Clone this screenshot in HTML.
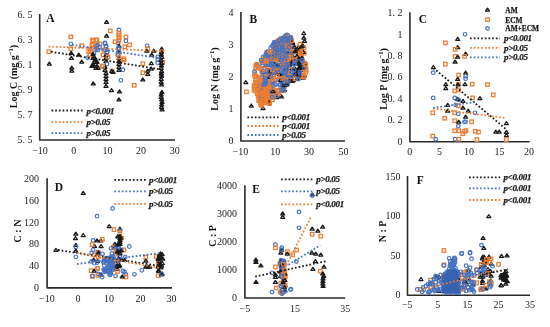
<!DOCTYPE html>
<html><head><meta charset="utf-8"><title>Scatter panels</title>
<style>
html,body{margin:0;padding:0;background:#fff;width:550px;height:327px;overflow:hidden}
svg{display:block;will-change:transform}
.tk{font-family:"Liberation Serif",serif;font-size:10px;fill:#222}
.pt{font-family:"Liberation Serif",serif;font-size:11.5px;font-weight:bold;fill:#111}
.lg{font-family:"Liberation Serif",serif;font-size:9px;font-weight:bold;font-style:italic;fill:#1a1a1a;letter-spacing:-0.3px;stroke:#1a1a1a;stroke-width:0.25px}
.lgn{font-style:normal;font-size:7.4px;letter-spacing:0}
.yt{font-family:"Liberation Serif",serif;font-size:10px;font-weight:bold;fill:#111}
.sup{font-size:6.5px}
</style></head><body>
<svg width="550" height="327" viewBox="0 0 550 327">
<defs>
<path id="t" d="M0,-1.6 L2.0,1.4 L-2.0,1.4 Z" fill="none" stroke="#1a1a1a" stroke-width="1.25" stroke-linejoin="round"/>
<path id="T" d="M0,-1.6 L2.0,1.4 L-2.0,1.4 Z" fill="#1a1a1a" stroke="#1a1a1a" stroke-width="1.25" stroke-linejoin="round"/>
<rect id="s" x="-1.75" y="-1.75" width="3.5" height="3.5" fill="none" stroke="#ED7D31" stroke-width="1.25"/>
<circle id="c" cx="0" cy="0" r="1.8" fill="none" stroke="#4472C4" stroke-width="1.2"/>
</defs>
<path d="M39.7,14 V140.0 H175" fill="none" stroke="#2a2a2a" stroke-width="1.6" stroke-linejoin="round"/>
<text class="tk" x="32.5" y="18.0" text-anchor="end">6. 5</text>
<text class="tk" x="32.5" y="42.9" text-anchor="end">6. 3</text>
<text class="tk" x="32.5" y="67.9" text-anchor="end">6. 1</text>
<text class="tk" x="32.5" y="92.9" text-anchor="end">5. 9</text>
<text class="tk" x="32.5" y="117.9" text-anchor="end">5. 7</text>
<text class="tk" x="32.5" y="142.9" text-anchor="end">5. 5</text>
<text class="tk" x="40" y="154.4" text-anchor="middle">−10</text>
<text class="tk" x="73.7" y="154.4" text-anchor="middle">0</text>
<text class="tk" x="107.4" y="154.4" text-anchor="middle">10</text>
<text class="tk" x="141" y="154.4" text-anchor="middle">20</text>
<text class="tk" x="174.7" y="154.4" text-anchor="middle">30</text>
<text class="pt" x="46.3" y="21.8">A</text>
<text class="yt" transform="translate(16.8,76.5) rotate(-90)" text-anchor="middle">Log C (mg g<tspan class="sup" dy="-4">−1</tspan><tspan dy="4">)</tspan></text>
<use href="#t" x="49.3" y="63.7"/>
<use href="#s" x="48.9" y="51.7"/>
<use href="#s" x="70.8" y="36.8"/>
<use href="#c" x="70.8" y="43.8"/>
<use href="#s" x="70.8" y="48.8"/>
<use href="#T" x="71.2" y="53.0"/>
<use href="#t" x="71.4" y="58.0"/>
<use href="#t" x="71.8" y="67.7"/>
<use href="#t" x="71.8" y="70.6"/>
<use href="#T" x="78.8" y="54.7"/>
<use href="#t" x="81.7" y="61.7"/>
<use href="#s" x="81.7" y="45.8"/>
<use href="#c" x="87.7" y="57.7"/>
<use href="#s" x="88.7" y="51.7"/>
<use href="#s" x="93.0" y="41.0"/>
<use href="#s" x="97.0" y="40.0"/>
<use href="#s" x="92.0" y="45.0"/>
<use href="#s" x="96.0" y="47.0"/>
<use href="#c" x="97.0" y="46.0"/>
<use href="#c" x="98.0" y="50.0"/>
<use href="#t" x="93.0" y="58.0"/>
<use href="#t" x="95.0" y="62.0"/>
<use href="#t" x="97.0" y="66.0"/>
<use href="#s" x="90.0" y="49.0"/>
<use href="#s" x="100.0" y="44.0"/>
<use href="#c" x="94.0" y="53.0"/>
<use href="#t" x="93.0" y="64.0"/>
<use href="#t" x="96.0" y="68.0"/>
<use href="#t" x="93.3" y="83.5"/>
<use href="#T" x="95.0" y="60.0"/>
<use href="#T" x="92.0" y="66.0"/>
<use href="#t" x="106.6" y="21.9"/>
<use href="#t" x="106.6" y="35.8"/>
<use href="#s" x="110.3" y="30.9"/>
<use href="#c" x="105.0" y="43.0"/>
<use href="#c" x="106.0" y="46.0"/>
<use href="#s" x="104.0" y="50.0"/>
<use href="#c" x="107.0" y="52.0"/>
<use href="#s" x="103.0" y="55.0"/>
<use href="#t" x="106.0" y="58.0"/>
<use href="#t" x="106.0" y="61.0"/>
<use href="#s" x="103.0" y="66.0"/>
<use href="#c" x="107.0" y="64.0"/>
<use href="#t" x="105.0" y="70.0"/>
<use href="#t" x="106.0" y="73.0"/>
<use href="#t" x="106.0" y="76.0"/>
<use href="#t" x="106.0" y="79.0"/>
<use href="#t" x="106.0" y="82.0"/>
<use href="#t" x="106.0" y="86.0"/>
<use href="#T" x="106.0" y="55.0"/>
<use href="#T" x="105.0" y="67.0"/>
<use href="#c" x="118.9" y="29.9"/>
<use href="#s" x="118.9" y="34.9"/>
<use href="#s" x="118.9" y="39.9"/>
<use href="#c" x="118.0" y="43.0"/>
<use href="#t" x="119.0" y="46.0"/>
<use href="#c" x="119.0" y="49.0"/>
<use href="#t" x="119.0" y="52.0"/>
<use href="#s" x="118.0" y="55.0"/>
<use href="#t" x="119.0" y="58.0"/>
<use href="#s" x="120.0" y="60.0"/>
<use href="#t" x="119.0" y="64.0"/>
<use href="#t" x="119.0" y="67.0"/>
<use href="#t" x="119.0" y="70.0"/>
<use href="#t" x="119.5" y="91.4"/>
<use href="#t" x="118.9" y="99.4"/>
<use href="#T" x="119.0" y="61.0"/>
<use href="#s" x="114.9" y="41.8"/>
<use href="#s" x="125.9" y="36.9"/>
<use href="#c" x="125.9" y="40.8"/>
<use href="#s" x="129.5" y="44.8"/>
<use href="#s" x="124.9" y="46.8"/>
<use href="#s" x="123.9" y="58.8"/>
<use href="#c" x="122.9" y="69.7"/>
<use href="#c" x="120.9" y="80.3"/>
<use href="#s" x="124.0" y="60.0"/>
<use href="#s" x="112.0" y="71.0"/>
<use href="#t" x="113.0" y="72.0"/>
<use href="#t" x="111.5" y="90.2"/>
<use href="#s" x="134.2" y="85.3"/>
<use href="#c" x="147.2" y="45.8"/>
<use href="#s" x="147.8" y="48.8"/>
<use href="#t" x="146.8" y="50.8"/>
<use href="#t" x="153.7" y="50.8"/>
<use href="#t" x="161.7" y="48.8"/>
<use href="#s" x="161.7" y="51.8"/>
<use href="#c" x="157.7" y="56.8"/>
<use href="#c" x="157.7" y="59.7"/>
<use href="#c" x="157.7" y="62.7"/>
<use href="#t" x="151.7" y="54.8"/>
<use href="#s" x="142.8" y="63.7"/>
<use href="#t" x="151.3" y="63.3"/>
<use href="#t" x="151.3" y="68.7"/>
<use href="#s" x="142.8" y="72.7"/>
<use href="#t" x="147.8" y="70.7"/>
<use href="#t" x="147.8" y="74.0"/>
<use href="#t" x="142.8" y="79.5"/>
<use href="#s" x="162.7" y="62.4"/>
<use href="#c" x="161.7" y="75.0"/>
<use href="#t" x="161.4" y="52.0"/>
<use href="#T" x="161.3" y="54.5"/>
<use href="#t" x="161.8" y="57.0"/>
<use href="#t" x="161.2" y="60.0"/>
<use href="#t" x="161.6" y="63.0"/>
<use href="#T" x="161.5" y="65.5"/>
<use href="#t" x="161.2" y="68.0"/>
<use href="#t" x="161.6" y="71.0"/>
<use href="#t" x="161.1" y="73.5"/>
<use href="#T" x="161.5" y="76.0"/>
<use href="#t" x="161.2" y="79.0"/>
<use href="#t" x="161.2" y="82.0"/>
<use href="#t" x="161.5" y="84.5"/>
<use href="#T" x="161.9" y="92.0"/>
<use href="#t" x="161.2" y="94.5"/>
<use href="#t" x="161.3" y="97.0"/>
<use href="#t" x="161.7" y="99.5"/>
<use href="#T" x="162.0" y="102.0"/>
<use href="#t" x="161.7" y="104.5"/>
<use href="#t" x="161.5" y="107.0"/>
<use href="#t" x="162.1" y="109.5"/>
<use href="#c" x="105.0" y="43.5"/>
<use href="#c" x="106.0" y="47.0"/>
<use href="#c" x="105.5" y="50.0"/>
<use href="#c" x="107.0" y="53.0"/>
<use href="#s" x="108.0" y="57.0"/>
<use href="#c" x="118.5" y="48.0"/>
<use href="#c" x="119.0" y="52.0"/>
<use href="#c" x="118.0" y="55.0"/>
<use href="#s" x="119.0" y="57.0"/>
<use href="#s" x="119.0" y="33.0"/>
<use href="#s" x="119.0" y="37.5"/>
<use href="#s" x="118.5" y="41.0"/>
<use href="#c" x="97.5" y="45.0"/>
<use href="#c" x="96.5" y="49.0"/>
<use href="#c" x="99.5" y="47.0"/>
<use href="#s" x="92.5" y="40.0"/>
<use href="#s" x="96.0" y="40.0"/>
<use href="#s" x="93.0" y="44.5"/>
<use href="#s" x="91.0" y="51.0"/>
<use href="#s" x="90.0" y="55.0"/>
<use href="#T" x="93.0" y="54.0"/>
<use href="#T" x="95.0" y="58.0"/>
<use href="#T" x="97.0" y="62.0"/>
<use href="#T" x="94.0" y="66.0"/>
<use href="#t" x="98.0" y="68.0"/>
<use href="#s" x="102.6" y="66.3"/>
<use href="#t" x="111.8" y="70.9"/>
<line x1="48.6" y1="46.5" x2="162.7" y2="51" stroke="#ED7D31" stroke-width="1.8" stroke-dasharray="1.7 2.0"/>
<line x1="51" y1="51.7" x2="160.3" y2="69.4" stroke="#1a1a1a" stroke-width="1.8" stroke-dasharray="1.7 2.0"/>
<line x1="72" y1="44.8" x2="160.3" y2="58.3" stroke="#4472C4" stroke-width="1.8" stroke-dasharray="1.7 2.0"/>
<line x1="51.5" y1="110.5" x2="82.5" y2="110.5" stroke="#1a1a1a" stroke-width="1.8" stroke-dasharray="1.7 2.0"/>
<text class="lg" x="86.5" y="113.5">p&lt;0.001</text>
<line x1="51.5" y1="122.1" x2="82.5" y2="122.1" stroke="#ED7D31" stroke-width="1.8" stroke-dasharray="1.7 2.0"/>
<text class="lg" x="86.5" y="125.1">p&gt;0.05</text>
<line x1="51.5" y1="133.2" x2="82.5" y2="133.2" stroke="#4472C4" stroke-width="1.8" stroke-dasharray="1.7 2.0"/>
<text class="lg" x="86.5" y="136.2">p&gt;0.05</text>
<path d="M240.89999999999998,12 V141.0 H345" fill="none" stroke="#2a2a2a" stroke-width="1.6" stroke-linejoin="round"/>
<text class="tk" x="233.5" y="15.6" text-anchor="end">4</text>
<text class="tk" x="233.5" y="47.7" text-anchor="end">3</text>
<text class="tk" x="233.5" y="79.8" text-anchor="end">2</text>
<text class="tk" x="233.5" y="111.9" text-anchor="end">1</text>
<text class="tk" x="233.5" y="144.0" text-anchor="end">0</text>
<text class="tk" x="240.4" y="155.2" text-anchor="middle">−10</text>
<text class="tk" x="275.3" y="155.2" text-anchor="middle">10</text>
<text class="tk" x="309" y="155.2" text-anchor="middle">30</text>
<text class="tk" x="343.5" y="155.2" text-anchor="middle">50</text>
<text class="pt" x="249.6" y="23.2">B</text>
<text class="yt" transform="translate(217.5,79) rotate(-90)" text-anchor="middle">Log N (mg g<tspan class="sup" dy="-4">−1</tspan><tspan dy="4">)</tspan></text>
<use href="#t" x="298.5" y="72.0"/>
<use href="#t" x="291.3" y="80.8"/>
<use href="#t" x="284.4" y="89.8"/>
<use href="#t" x="273.7" y="45.7"/>
<use href="#t" x="298.6" y="63.6"/>
<use href="#t" x="285.8" y="37.0"/>
<use href="#t" x="303.8" y="62.6"/>
<use href="#t" x="284.9" y="75.1"/>
<use href="#t" x="304.5" y="75.4"/>
<use href="#t" x="265.8" y="92.9"/>
<use href="#t" x="295.6" y="50.3"/>
<use href="#t" x="300.0" y="50.1"/>
<use href="#t" x="301.0" y="76.1"/>
<use href="#t" x="278.2" y="70.9"/>
<use href="#t" x="302.5" y="45.3"/>
<use href="#t" x="289.6" y="65.9"/>
<use href="#t" x="263.0" y="108.3"/>
<use href="#t" x="302.5" y="45.6"/>
<use href="#t" x="285.0" y="85.1"/>
<use href="#t" x="297.1" y="55.8"/>
<use href="#t" x="278.3" y="58.9"/>
<use href="#s" x="254.1" y="85.5"/>
<use href="#s" x="281.8" y="49.9"/>
<use href="#s" x="301.2" y="58.0"/>
<use href="#t" x="283.7" y="84.7"/>
<use href="#s" x="275.7" y="62.4"/>
<use href="#s" x="268.4" y="83.8"/>
<use href="#s" x="290.1" y="39.4"/>
<use href="#s" x="268.4" y="55.0"/>
<use href="#s" x="262.7" y="87.1"/>
<use href="#s" x="266.2" y="96.0"/>
<use href="#s" x="255.4" y="85.9"/>
<use href="#s" x="264.1" y="101.2"/>
<use href="#s" x="265.6" y="75.2"/>
<use href="#t" x="283.9" y="65.0"/>
<use href="#s" x="274.4" y="44.4"/>
<use href="#t" x="295.2" y="58.5"/>
<use href="#s" x="258.3" y="66.9"/>
<use href="#s" x="265.4" y="74.8"/>
<use href="#s" x="273.5" y="61.0"/>
<use href="#t" x="289.0" y="80.0"/>
<use href="#t" x="289.3" y="51.9"/>
<use href="#s" x="288.3" y="78.8"/>
<use href="#t" x="291.7" y="69.2"/>
<use href="#s" x="256.1" y="76.5"/>
<use href="#t" x="305.0" y="66.0"/>
<use href="#s" x="265.1" y="93.0"/>
<use href="#s" x="289.7" y="53.0"/>
<use href="#s" x="300.6" y="47.8"/>
<use href="#s" x="274.6" y="53.1"/>
<use href="#t" x="283.4" y="90.7"/>
<use href="#s" x="261.0" y="68.9"/>
<use href="#t" x="278.1" y="40.9"/>
<use href="#s" x="257.2" y="93.5"/>
<use href="#t" x="297.8" y="77.1"/>
<use href="#t" x="285.3" y="47.1"/>
<use href="#s" x="268.7" y="90.2"/>
<use href="#s" x="264.0" y="96.7"/>
<use href="#s" x="262.9" y="99.5"/>
<use href="#t" x="303.1" y="77.6"/>
<use href="#s" x="275.8" y="73.1"/>
<use href="#s" x="286.5" y="66.0"/>
<use href="#t" x="294.9" y="74.2"/>
<use href="#t" x="300.9" y="64.3"/>
<use href="#t" x="251.3" y="105.6"/>
<use href="#s" x="262.4" y="73.1"/>
<use href="#t" x="245.8" y="82.2"/>
<use href="#s" x="278.1" y="90.3"/>
<use href="#s" x="283.6" y="76.7"/>
<use href="#s" x="272.4" y="58.1"/>
<use href="#s" x="262.3" y="95.1"/>
<use href="#t" x="289.0" y="63.6"/>
<use href="#s" x="266.7" y="52.5"/>
<use href="#s" x="264.5" y="86.0"/>
<use href="#s" x="263.0" y="61.1"/>
<use href="#s" x="256.4" y="82.2"/>
<use href="#s" x="279.5" y="43.2"/>
<use href="#s" x="254.9" y="73.8"/>
<use href="#t" x="302.6" y="69.4"/>
<use href="#t" x="262.7" y="96.0"/>
<use href="#c" x="262.8" y="65.0"/>
<use href="#s" x="270.0" y="58.0"/>
<use href="#t" x="290.7" y="61.7"/>
<use href="#c" x="271.8" y="97.2"/>
<use href="#c" x="266.3" y="56.6"/>
<use href="#c" x="284.5" y="58.7"/>
<use href="#t" x="292.4" y="42.0"/>
<use href="#s" x="266.0" y="95.1"/>
<use href="#t" x="297.3" y="63.1"/>
<use href="#c" x="256.1" y="64.7"/>
<use href="#c" x="275.4" y="66.1"/>
<use href="#s" x="270.0" y="87.7"/>
<use href="#c" x="266.6" y="71.7"/>
<use href="#c" x="300.7" y="70.1"/>
<use href="#c" x="277.7" y="62.0"/>
<use href="#s" x="265.7" y="84.4"/>
<use href="#t" x="268.4" y="102.8"/>
<use href="#c" x="262.0" y="62.7"/>
<use href="#s" x="261.5" y="82.6"/>
<use href="#c" x="267.5" y="52.2"/>
<use href="#s" x="260.7" y="68.6"/>
<use href="#c" x="271.0" y="58.5"/>
<use href="#c" x="282.0" y="52.3"/>
<use href="#t" x="286.5" y="39.6"/>
<use href="#s" x="281.1" y="38.6"/>
<use href="#s" x="284.6" y="39.1"/>
<use href="#c" x="284.7" y="38.5"/>
<use href="#c" x="290.4" y="48.8"/>
<use href="#t" x="258.4" y="86.6"/>
<use href="#t" x="301.2" y="67.4"/>
<use href="#s" x="274.2" y="91.9"/>
<use href="#c" x="275.3" y="70.6"/>
<use href="#c" x="275.0" y="84.8"/>
<use href="#c" x="288.5" y="52.8"/>
<use href="#s" x="283.5" y="86.9"/>
<use href="#s" x="275.2" y="67.3"/>
<use href="#c" x="264.4" y="83.4"/>
<use href="#c" x="279.4" y="58.0"/>
<use href="#c" x="291.5" y="41.0"/>
<use href="#s" x="290.9" y="41.2"/>
<use href="#c" x="273.3" y="47.9"/>
<use href="#s" x="269.3" y="90.0"/>
<use href="#c" x="283.6" y="90.5"/>
<use href="#s" x="267.8" y="98.7"/>
<use href="#c" x="267.4" y="73.3"/>
<use href="#c" x="286.9" y="34.8"/>
<use href="#t" x="281.0" y="73.0"/>
<use href="#c" x="285.2" y="49.7"/>
<use href="#s" x="304.9" y="66.2"/>
<use href="#s" x="277.1" y="95.1"/>
<use href="#c" x="286.2" y="53.6"/>
<use href="#c" x="281.3" y="62.5"/>
<use href="#s" x="277.3" y="53.5"/>
<use href="#c" x="279.5" y="59.9"/>
<use href="#s" x="301.3" y="54.2"/>
<use href="#s" x="282.4" y="68.8"/>
<use href="#c" x="284.2" y="49.8"/>
<use href="#s" x="305.7" y="64.6"/>
<use href="#s" x="281.9" y="64.4"/>
<use href="#c" x="280.7" y="45.9"/>
<use href="#c" x="284.2" y="88.1"/>
<use href="#t" x="292.8" y="42.9"/>
<use href="#s" x="254.8" y="90.7"/>
<use href="#c" x="284.6" y="67.8"/>
<use href="#s" x="258.9" y="98.2"/>
<use href="#c" x="268.2" y="95.1"/>
<use href="#c" x="288.9" y="46.3"/>
<use href="#s" x="304.6" y="63.0"/>
<use href="#c" x="276.8" y="71.2"/>
<use href="#s" x="258.2" y="95.8"/>
<use href="#s" x="268.2" y="67.1"/>
<use href="#s" x="269.5" y="103.7"/>
<use href="#c" x="283.4" y="38.4"/>
<use href="#c" x="274.4" y="44.7"/>
<use href="#c" x="288.7" y="73.6"/>
<use href="#c" x="286.9" y="73.8"/>
<use href="#s" x="299.8" y="76.6"/>
<use href="#t" x="285.0" y="53.5"/>
<use href="#s" x="267.8" y="90.4"/>
<use href="#c" x="291.1" y="54.0"/>
<use href="#s" x="290.5" y="53.0"/>
<use href="#s" x="304.2" y="53.2"/>
<use href="#t" x="297.6" y="78.6"/>
<use href="#c" x="268.4" y="89.1"/>
<use href="#t" x="300.5" y="72.6"/>
<use href="#c" x="286.7" y="56.6"/>
<use href="#c" x="281.0" y="58.7"/>
<use href="#t" x="295.8" y="62.7"/>
<use href="#s" x="281.7" y="64.2"/>
<use href="#t" x="298.3" y="47.1"/>
<use href="#s" x="282.0" y="39.6"/>
<use href="#c" x="263.2" y="89.2"/>
<use href="#t" x="276.2" y="72.6"/>
<use href="#c" x="281.7" y="74.2"/>
<use href="#s" x="288.5" y="81.1"/>
<use href="#t" x="267.4" y="86.5"/>
<use href="#s" x="269.4" y="79.0"/>
<use href="#t" x="302.0" y="57.8"/>
<use href="#c" x="272.5" y="73.1"/>
<use href="#c" x="276.9" y="59.0"/>
<use href="#c" x="271.1" y="58.0"/>
<use href="#c" x="271.1" y="55.7"/>
<use href="#c" x="302.4" y="67.6"/>
<use href="#c" x="305.0" y="67.3"/>
<use href="#c" x="276.3" y="67.6"/>
<use href="#c" x="282.3" y="44.8"/>
<use href="#s" x="256.1" y="80.0"/>
<use href="#t" x="294.9" y="52.1"/>
<use href="#s" x="272.5" y="99.8"/>
<use href="#t" x="266.7" y="94.7"/>
<use href="#s" x="264.6" y="102.8"/>
<use href="#c" x="295.4" y="63.5"/>
<use href="#t" x="287.0" y="64.2"/>
<use href="#s" x="263.9" y="90.3"/>
<use href="#c" x="273.9" y="44.1"/>
<use href="#s" x="265.4" y="99.1"/>
<use href="#t" x="292.4" y="63.3"/>
<use href="#s" x="275.4" y="59.7"/>
<use href="#t" x="284.0" y="89.5"/>
<use href="#s" x="262.4" y="102.6"/>
<use href="#s" x="276.7" y="67.3"/>
<use href="#s" x="259.5" y="87.1"/>
<use href="#c" x="268.4" y="62.0"/>
<use href="#c" x="288.5" y="46.6"/>
<use href="#c" x="280.8" y="55.0"/>
<use href="#s" x="299.9" y="44.3"/>
<use href="#c" x="265.5" y="75.0"/>
<use href="#c" x="276.2" y="49.9"/>
<use href="#c" x="282.9" y="45.9"/>
<use href="#t" x="305.6" y="65.4"/>
<use href="#c" x="283.5" y="82.2"/>
<use href="#c" x="266.1" y="57.8"/>
<use href="#c" x="286.8" y="77.8"/>
<use href="#s" x="266.3" y="95.3"/>
<use href="#c" x="290.1" y="51.4"/>
<use href="#c" x="272.7" y="71.9"/>
<use href="#c" x="280.0" y="44.8"/>
<use href="#c" x="277.7" y="56.9"/>
<use href="#s" x="281.1" y="64.2"/>
<use href="#t" x="303.8" y="37.6"/>
<use href="#c" x="273.2" y="88.3"/>
<use href="#c" x="288.4" y="62.2"/>
<use href="#c" x="283.7" y="65.8"/>
<use href="#c" x="273.8" y="72.4"/>
<use href="#s" x="286.2" y="37.4"/>
<use href="#c" x="280.2" y="42.8"/>
<use href="#t" x="297.0" y="51.6"/>
<use href="#s" x="304.0" y="77.0"/>
<use href="#s" x="272.7" y="90.9"/>
<use href="#s" x="289.9" y="69.0"/>
<use href="#s" x="255.8" y="67.9"/>
<use href="#c" x="272.9" y="67.8"/>
<use href="#c" x="289.1" y="44.4"/>
<use href="#t" x="290.6" y="38.5"/>
<use href="#c" x="285.2" y="43.0"/>
<use href="#c" x="283.5" y="79.5"/>
<use href="#s" x="287.1" y="42.2"/>
<use href="#s" x="288.2" y="48.9"/>
<use href="#c" x="275.6" y="93.5"/>
<use href="#c" x="265.2" y="63.6"/>
<use href="#c" x="277.0" y="69.1"/>
<use href="#s" x="263.2" y="85.5"/>
<use href="#t" x="295.0" y="72.5"/>
<use href="#c" x="287.8" y="35.1"/>
<use href="#c" x="280.5" y="78.3"/>
<use href="#s" x="288.4" y="53.5"/>
<use href="#s" x="266.7" y="84.4"/>
<use href="#s" x="271.1" y="96.4"/>
<use href="#c" x="289.9" y="54.3"/>
<use href="#t" x="299.2" y="68.6"/>
<use href="#c" x="284.4" y="72.7"/>
<use href="#c" x="275.9" y="53.8"/>
<use href="#c" x="273.6" y="43.9"/>
<use href="#s" x="266.5" y="74.1"/>
<use href="#c" x="263.4" y="86.1"/>
<use href="#s" x="267.1" y="97.8"/>
<use href="#s" x="300.3" y="51.6"/>
<use href="#c" x="288.5" y="56.0"/>
<use href="#s" x="256.2" y="65.2"/>
<use href="#s" x="261.2" y="103.9"/>
<use href="#s" x="286.7" y="36.1"/>
<use href="#c" x="276.3" y="69.5"/>
<use href="#c" x="290.4" y="53.4"/>
<use href="#s" x="289.2" y="60.9"/>
<use href="#c" x="263.8" y="59.6"/>
<use href="#t" x="282.4" y="55.1"/>
<use href="#c" x="273.2" y="63.6"/>
<use href="#c" x="283.3" y="59.4"/>
<use href="#t" x="300.4" y="77.3"/>
<use href="#c" x="268.1" y="51.6"/>
<use href="#c" x="284.5" y="64.9"/>
<use href="#c" x="284.4" y="70.7"/>
<use href="#t" x="285.9" y="79.6"/>
<use href="#s" x="269.9" y="95.0"/>
<use href="#s" x="282.4" y="57.3"/>
<use href="#c" x="288.1" y="47.4"/>
<use href="#s" x="290.3" y="59.7"/>
<use href="#s" x="269.5" y="93.6"/>
<use href="#t" x="292.8" y="73.2"/>
<use href="#s" x="285.8" y="66.1"/>
<use href="#c" x="281.9" y="85.2"/>
<use href="#s" x="288.4" y="38.8"/>
<use href="#c" x="280.5" y="43.9"/>
<use href="#t" x="269.3" y="88.9"/>
<use href="#c" x="287.4" y="83.9"/>
<use href="#t" x="293.4" y="69.5"/>
<use href="#t" x="303.8" y="33.1"/>
<use href="#s" x="263.2" y="61.4"/>
<use href="#c" x="285.5" y="70.0"/>
<use href="#s" x="273.0" y="75.1"/>
<use href="#s" x="303.9" y="47.8"/>
<use href="#c" x="266.5" y="58.2"/>
<use href="#t" x="303.3" y="51.9"/>
<use href="#t" x="282.3" y="82.2"/>
<use href="#t" x="261.4" y="90.1"/>
<use href="#c" x="268.3" y="61.7"/>
<use href="#c" x="284.2" y="67.9"/>
<use href="#c" x="284.2" y="64.7"/>
<use href="#s" x="288.2" y="55.7"/>
<use href="#c" x="254.5" y="71.6"/>
<use href="#s" x="283.2" y="60.6"/>
<use href="#s" x="306.2" y="70.2"/>
<use href="#t" x="281.5" y="96.4"/>
<use href="#c" x="265.0" y="61.6"/>
<use href="#s" x="288.0" y="58.1"/>
<use href="#s" x="262.5" y="85.4"/>
<use href="#s" x="268.8" y="61.0"/>
<use href="#s" x="270.0" y="67.0"/>
<use href="#s" x="297.0" y="59.4"/>
<use href="#t" x="276.6" y="97.1"/>
<use href="#c" x="269.0" y="76.9"/>
<use href="#t" x="286.8" y="51.1"/>
<use href="#c" x="271.5" y="60.1"/>
<use href="#c" x="261.8" y="78.2"/>
<use href="#s" x="279.5" y="79.8"/>
<use href="#s" x="275.7" y="56.9"/>
<use href="#s" x="259.4" y="92.6"/>
<use href="#t" x="293.2" y="80.3"/>
<use href="#t" x="298.6" y="69.7"/>
<use href="#s" x="275.9" y="70.0"/>
<use href="#s" x="271.1" y="95.4"/>
<use href="#c" x="267.8" y="95.5"/>
<use href="#t" x="288.0" y="78.7"/>
<use href="#c" x="284.3" y="59.1"/>
<use href="#s" x="276.3" y="58.4"/>
<use href="#c" x="286.0" y="48.0"/>
<use href="#t" x="286.7" y="84.5"/>
<use href="#s" x="303.4" y="76.1"/>
<use href="#s" x="272.1" y="81.2"/>
<use href="#t" x="265.9" y="86.8"/>
<use href="#c" x="287.2" y="67.2"/>
<use href="#c" x="284.8" y="76.3"/>
<use href="#c" x="271.6" y="62.7"/>
<use href="#s" x="266.9" y="87.9"/>
<use href="#s" x="264.2" y="94.6"/>
<use href="#c" x="275.9" y="43.0"/>
<use href="#t" x="285.9" y="68.1"/>
<use href="#c" x="268.2" y="90.9"/>
<use href="#s" x="266.2" y="85.5"/>
<use href="#s" x="269.3" y="91.7"/>
<use href="#s" x="284.2" y="65.8"/>
<use href="#c" x="281.5" y="55.8"/>
<use href="#c" x="273.4" y="48.2"/>
<use href="#s" x="261.8" y="71.5"/>
<use href="#c" x="276.2" y="55.4"/>
<use href="#s" x="267.8" y="102.1"/>
<use href="#c" x="290.5" y="57.6"/>
<use href="#s" x="266.3" y="100.1"/>
<use href="#c" x="263.0" y="56.8"/>
<use href="#s" x="283.3" y="87.5"/>
<use href="#c" x="280.0" y="41.1"/>
<use href="#c" x="287.2" y="59.9"/>
<use href="#t" x="295.4" y="69.0"/>
<use href="#c" x="278.4" y="56.3"/>
<use href="#c" x="278.4" y="51.9"/>
<use href="#c" x="283.2" y="84.1"/>
<use href="#s" x="300.4" y="51.7"/>
<use href="#c" x="279.2" y="84.8"/>
<use href="#s" x="289.6" y="57.5"/>
<use href="#c" x="283.5" y="53.0"/>
<use href="#t" x="258.7" y="84.1"/>
<use href="#s" x="265.5" y="85.4"/>
<use href="#c" x="278.7" y="94.7"/>
<use href="#s" x="301.2" y="76.7"/>
<use href="#s" x="263.7" y="83.2"/>
<use href="#s" x="269.9" y="76.6"/>
<use href="#s" x="284.4" y="54.9"/>
<use href="#c" x="270.7" y="47.7"/>
<use href="#s" x="270.2" y="86.3"/>
<use href="#c" x="272.7" y="52.7"/>
<use href="#s" x="269.3" y="54.5"/>
<use href="#s" x="285.8" y="38.5"/>
<use href="#s" x="261.3" y="105.3"/>
<use href="#s" x="276.4" y="46.0"/>
<use href="#s" x="286.4" y="37.2"/>
<use href="#s" x="261.7" y="69.8"/>
<use href="#c" x="282.4" y="48.4"/>
<use href="#s" x="273.4" y="52.5"/>
<use href="#s" x="288.8" y="38.8"/>
<use href="#s" x="261.2" y="104.4"/>
<use href="#c" x="279.2" y="40.5"/>
<use href="#t" x="293.2" y="59.2"/>
<use href="#c" x="270.7" y="55.8"/>
<use href="#t" x="290.9" y="60.4"/>
<use href="#t" x="262.7" y="98.1"/>
<use href="#c" x="270.0" y="84.3"/>
<use href="#c" x="277.3" y="52.4"/>
<use href="#c" x="265.7" y="65.0"/>
<use href="#c" x="282.3" y="56.5"/>
<use href="#s" x="277.8" y="40.9"/>
<use href="#s" x="282.7" y="49.0"/>
<use href="#t" x="279.5" y="74.4"/>
<use href="#t" x="301.6" y="46.5"/>
<use href="#s" x="266.0" y="63.2"/>
<use href="#c" x="290.2" y="50.6"/>
<use href="#c" x="286.9" y="46.9"/>
<use href="#c" x="290.3" y="74.2"/>
<use href="#s" x="273.1" y="53.7"/>
<use href="#s" x="255.7" y="76.7"/>
<use href="#c" x="290.3" y="45.7"/>
<use href="#c" x="302.3" y="62.4"/>
<use href="#s" x="277.0" y="51.6"/>
<use href="#t" x="274.5" y="64.3"/>
<use href="#c" x="262.8" y="61.6"/>
<use href="#s" x="278.2" y="57.7"/>
<use href="#c" x="289.6" y="58.5"/>
<use href="#c" x="286.5" y="41.0"/>
<use href="#s" x="263.9" y="90.0"/>
<use href="#c" x="268.2" y="58.2"/>
<use href="#s" x="278.7" y="93.7"/>
<use href="#t" x="278.0" y="65.5"/>
<use href="#c" x="284.1" y="46.5"/>
<use href="#s" x="283.7" y="49.0"/>
<use href="#c" x="273.6" y="51.2"/>
<use href="#c" x="287.9" y="55.9"/>
<use href="#t" x="287.6" y="73.6"/>
<use href="#s" x="260.7" y="87.8"/>
<use href="#c" x="283.1" y="88.0"/>
<use href="#s" x="273.4" y="66.5"/>
<use href="#s" x="259.9" y="100.2"/>
<use href="#c" x="277.8" y="46.2"/>
<use href="#s" x="283.6" y="45.1"/>
<use href="#s" x="289.8" y="62.1"/>
<use href="#s" x="264.8" y="86.3"/>
<use href="#s" x="260.5" y="103.3"/>
<use href="#s" x="274.7" y="50.9"/>
<use href="#c" x="280.9" y="41.5"/>
<use href="#t" x="269.8" y="77.0"/>
<use href="#c" x="268.0" y="64.6"/>
<use href="#c" x="279.2" y="51.9"/>
<use href="#c" x="283.1" y="48.4"/>
<use href="#s" x="287.5" y="71.6"/>
<use href="#t" x="292.7" y="75.8"/>
<use href="#s" x="282.7" y="40.9"/>
<use href="#c" x="265.3" y="80.0"/>
<use href="#s" x="260.2" y="98.9"/>
<use href="#s" x="256.1" y="66.1"/>
<use href="#s" x="289.0" y="59.3"/>
<use href="#s" x="266.9" y="102.5"/>
<use href="#c" x="287.3" y="59.0"/>
<use href="#t" x="280.6" y="80.0"/>
<use href="#c" x="266.5" y="58.3"/>
<use href="#s" x="294.9" y="51.6"/>
<use href="#s" x="268.4" y="100.6"/>
<use href="#c" x="285.3" y="35.9"/>
<use href="#s" x="291.7" y="40.7"/>
<use href="#t" x="295.1" y="51.2"/>
<use href="#s" x="283.6" y="90.4"/>
<use href="#c" x="268.6" y="57.3"/>
<use href="#s" x="267.3" y="93.5"/>
<use href="#t" x="292.4" y="80.6"/>
<use href="#t" x="299.6" y="59.0"/>
<use href="#t" x="268.6" y="101.2"/>
<use href="#c" x="284.7" y="37.9"/>
<use href="#t" x="287.0" y="68.3"/>
<use href="#c" x="284.7" y="40.4"/>
<use href="#c" x="290.6" y="73.6"/>
<use href="#t" x="297.5" y="78.9"/>
<use href="#s" x="287.8" y="76.4"/>
<use href="#s" x="263.1" y="100.0"/>
<use href="#c" x="277.4" y="44.7"/>
<use href="#s" x="273.0" y="91.4"/>
<use href="#c" x="287.0" y="83.6"/>
<use href="#t" x="293.0" y="56.5"/>
<use href="#s" x="273.6" y="48.2"/>
<use href="#c" x="275.5" y="51.9"/>
<use href="#c" x="283.1" y="52.8"/>
<use href="#t" x="269.9" y="71.5"/>
<use href="#c" x="290.3" y="47.9"/>
<use href="#s" x="260.0" y="91.3"/>
<use href="#c" x="286.5" y="74.8"/>
<use href="#c" x="262.0" y="76.9"/>
<use href="#s" x="270.7" y="87.4"/>
<use href="#c" x="282.9" y="88.3"/>
<use href="#t" x="292.4" y="74.5"/>
<use href="#s" x="258.7" y="100.7"/>
<use href="#c" x="297.1" y="77.2"/>
<use href="#t" x="297.2" y="48.7"/>
<use href="#s" x="262.6" y="87.7"/>
<use href="#c" x="290.3" y="74.7"/>
<use href="#s" x="279.2" y="41.9"/>
<use href="#t" x="303.2" y="68.1"/>
<use href="#c" x="274.4" y="55.8"/>
<use href="#c" x="272.3" y="90.4"/>
<use href="#c" x="257.2" y="65.0"/>
<use href="#c" x="262.1" y="86.4"/>
<use href="#s" x="305.4" y="67.2"/>
<use href="#s" x="285.7" y="78.3"/>
<use href="#c" x="283.2" y="52.4"/>
<use href="#t" x="273.7" y="55.8"/>
<use href="#t" x="296.6" y="74.0"/>
<use href="#s" x="266.1" y="91.4"/>
<use href="#c" x="272.7" y="85.1"/>
<use href="#s" x="286.9" y="60.0"/>
<use href="#s" x="275.3" y="54.3"/>
<use href="#c" x="271.6" y="87.7"/>
<use href="#c" x="290.4" y="37.8"/>
<use href="#s" x="266.7" y="95.1"/>
<use href="#s" x="260.5" y="85.9"/>
<use href="#t" x="293.1" y="62.5"/>
<use href="#c" x="281.5" y="90.7"/>
<use href="#s" x="284.6" y="66.7"/>
<use href="#c" x="276.6" y="65.1"/>
<use href="#s" x="294.9" y="78.7"/>
<use href="#c" x="267.9" y="55.3"/>
<use href="#s" x="255.6" y="82.6"/>
<use href="#c" x="265.2" y="81.5"/>
<use href="#c" x="265.9" y="54.1"/>
<use href="#c" x="286.7" y="82.9"/>
<use href="#s" x="281.8" y="54.8"/>
<use href="#c" x="282.7" y="39.7"/>
<use href="#t" x="299.0" y="74.4"/>
<use href="#s" x="287.7" y="56.7"/>
<use href="#s" x="260.8" y="84.8"/>
<use href="#s" x="280.7" y="88.3"/>
<use href="#c" x="269.6" y="64.6"/>
<use href="#c" x="290.9" y="56.3"/>
<use href="#c" x="271.9" y="92.8"/>
<use href="#c" x="294.2" y="73.5"/>
<use href="#t" x="302.0" y="67.4"/>
<use href="#c" x="291.0" y="37.3"/>
<use href="#c" x="265.0" y="57.1"/>
<use href="#t" x="286.9" y="82.9"/>
<use href="#c" x="285.5" y="66.9"/>
<use href="#s" x="255.8" y="80.2"/>
<use href="#t" x="298.6" y="58.5"/>
<use href="#c" x="281.6" y="69.7"/>
<use href="#c" x="266.0" y="63.6"/>
<use href="#c" x="274.7" y="48.7"/>
<use href="#s" x="290.2" y="47.4"/>
<use href="#s" x="257.0" y="64.6"/>
<use href="#c" x="275.2" y="79.9"/>
<use href="#s" x="284.3" y="78.9"/>
<use href="#t" x="283.2" y="85.2"/>
<use href="#s" x="273.5" y="95.8"/>
<use href="#s" x="274.1" y="91.6"/>
<use href="#c" x="304.1" y="68.0"/>
<use href="#s" x="284.4" y="48.2"/>
<use href="#c" x="274.9" y="54.0"/>
<use href="#c" x="284.5" y="78.0"/>
<use href="#c" x="275.6" y="67.9"/>
<use href="#t" x="292.4" y="61.3"/>
<use href="#s" x="264.8" y="85.0"/>
<use href="#s" x="254.1" y="89.0"/>
<use href="#s" x="273.0" y="52.7"/>
<use href="#c" x="261.3" y="98.5"/>
<use href="#c" x="270.7" y="64.9"/>
<use href="#t" x="300.9" y="69.5"/>
<use href="#c" x="275.9" y="96.2"/>
<use href="#s" x="259.1" y="78.8"/>
<use href="#s" x="267.9" y="86.7"/>
<use href="#s" x="261.0" y="104.4"/>
<use href="#c" x="272.8" y="58.7"/>
<use href="#s" x="264.9" y="101.1"/>
<use href="#s" x="267.9" y="81.3"/>
<use href="#c" x="287.6" y="75.6"/>
<use href="#c" x="299.5" y="61.4"/>
<use href="#t" x="298.1" y="71.3"/>
<use href="#t" x="292.5" y="63.8"/>
<use href="#c" x="287.4" y="70.9"/>
<use href="#c" x="287.8" y="75.2"/>
<use href="#c" x="285.9" y="64.1"/>
<use href="#c" x="266.5" y="71.3"/>
<use href="#c" x="289.1" y="76.9"/>
<use href="#c" x="266.8" y="70.2"/>
<use href="#s" x="290.1" y="72.7"/>
<use href="#c" x="272.4" y="70.1"/>
<use href="#s" x="259.0" y="88.5"/>
<use href="#c" x="281.3" y="47.8"/>
<use href="#c" x="264.5" y="81.8"/>
<use href="#c" x="289.6" y="57.6"/>
<use href="#t" x="299.4" y="66.9"/>
<use href="#c" x="285.0" y="78.5"/>
<use href="#t" x="273.1" y="91.1"/>
<use href="#s" x="268.7" y="96.7"/>
<use href="#t" x="298.5" y="62.5"/>
<use href="#s" x="258.8" y="90.4"/>
<use href="#c" x="264.3" y="68.8"/>
<use href="#s" x="305.7" y="65.1"/>
<use href="#s" x="260.1" y="87.4"/>
<use href="#c" x="297.9" y="79.1"/>
<use href="#t" x="294.4" y="46.6"/>
<use href="#c" x="286.3" y="57.9"/>
<use href="#c" x="265.0" y="78.1"/>
<use href="#s" x="254.7" y="75.9"/>
<use href="#s" x="263.4" y="58.8"/>
<use href="#s" x="260.8" y="84.1"/>
<use href="#c" x="300.2" y="73.8"/>
<use href="#s" x="284.3" y="43.7"/>
<use href="#t" x="304.5" y="40.9"/>
<use href="#c" x="282.4" y="50.6"/>
<use href="#s" x="260.0" y="96.8"/>
<use href="#s" x="263.9" y="92.3"/>
<use href="#c" x="289.3" y="56.7"/>
<use href="#c" x="272.5" y="80.9"/>
<use href="#c" x="263.1" y="84.1"/>
<use href="#c" x="263.8" y="72.1"/>
<use href="#s" x="266.2" y="60.0"/>
<use href="#s" x="288.9" y="49.2"/>
<use href="#s" x="303.3" y="72.1"/>
<use href="#s" x="265.3" y="100.4"/>
<use href="#s" x="261.7" y="94.5"/>
<use href="#c" x="299.7" y="72.1"/>
<use href="#c" x="261.8" y="88.3"/>
<use href="#s" x="289.5" y="47.1"/>
<use href="#s" x="272.3" y="87.4"/>
<use href="#s" x="271.5" y="97.2"/>
<use href="#c" x="287.5" y="41.0"/>
<use href="#c" x="293.9" y="64.6"/>
<use href="#s" x="266.4" y="87.6"/>
<use href="#c" x="282.4" y="40.2"/>
<use href="#c" x="279.1" y="39.8"/>
<use href="#s" x="246.4" y="91.8"/>
<use href="#c" x="283.8" y="42.4"/>
<use href="#s" x="285.9" y="80.0"/>
<use href="#c" x="288.7" y="39.5"/>
<use href="#c" x="280.5" y="65.3"/>
<use href="#c" x="269.0" y="56.6"/>
<use href="#s" x="266.1" y="60.1"/>
<use href="#s" x="278.4" y="70.5"/>
<use href="#s" x="266.5" y="61.3"/>
<use href="#c" x="271.9" y="56.5"/>
<use href="#s" x="273.3" y="80.0"/>
<use href="#s" x="270.1" y="52.0"/>
<use href="#s" x="269.0" y="101.4"/>
<use href="#c" x="262.7" y="72.0"/>
<use href="#c" x="258.9" y="85.5"/>
<use href="#s" x="262.8" y="61.4"/>
<use href="#c" x="278.8" y="57.6"/>
<use href="#s" x="261.4" y="89.2"/>
<use href="#c" x="282.3" y="47.8"/>
<use href="#s" x="256.2" y="82.1"/>
<use href="#s" x="264.8" y="69.2"/>
<use href="#s" x="277.3" y="76.0"/>
<use href="#c" x="285.4" y="58.7"/>
<use href="#s" x="288.1" y="48.9"/>
<use href="#s" x="282.5" y="60.6"/>
<use href="#s" x="258.6" y="84.9"/>
<use href="#c" x="274.7" y="73.1"/>
<use href="#s" x="280.6" y="55.4"/>
<use href="#c" x="265.7" y="56.2"/>
<use href="#s" x="282.8" y="78.4"/>
<use href="#s" x="279.1" y="91.1"/>
<use href="#c" x="274.3" y="42.1"/>
<use href="#s" x="272.5" y="78.4"/>
<use href="#s" x="263.0" y="98.6"/>
<use href="#s" x="261.7" y="100.8"/>
<use href="#c" x="282.6" y="47.2"/>
<use href="#s" x="295.0" y="59.8"/>
<use href="#s" x="288.7" y="57.3"/>
<use href="#s" x="277.4" y="45.9"/>
<use href="#s" x="300.5" y="52.8"/>
<use href="#c" x="283.4" y="89.8"/>
<use href="#s" x="305.6" y="72.5"/>
<use href="#c" x="288.3" y="64.5"/>
<use href="#s" x="255.2" y="87.3"/>
<use href="#s" x="275.7" y="56.4"/>
<use href="#s" x="272.5" y="58.8"/>
<use href="#s" x="273.1" y="96.4"/>
<use href="#c" x="284.8" y="52.9"/>
<use href="#s" x="260.2" y="77.7"/>
<use href="#c" x="275.6" y="72.1"/>
<use href="#c" x="261.1" y="60.2"/>
<use href="#c" x="280.2" y="49.8"/>
<use href="#s" x="260.6" y="81.4"/>
<use href="#s" x="282.3" y="41.2"/>
<use href="#s" x="291.1" y="57.2"/>
<use href="#c" x="264.5" y="82.8"/>
<use href="#s" x="272.4" y="70.0"/>
<use href="#c" x="286.8" y="68.9"/>
<use href="#c" x="280.2" y="84.5"/>
<use href="#c" x="275.2" y="56.3"/>
<use href="#c" x="266.1" y="81.2"/>
<use href="#c" x="276.9" y="47.6"/>
<use href="#c" x="286.0" y="56.3"/>
<use href="#c" x="281.5" y="89.6"/>
<use href="#c" x="277.7" y="44.0"/>
<use href="#c" x="274.6" y="83.7"/>
<use href="#c" x="276.8" y="44.8"/>
<use href="#c" x="275.2" y="48.1"/>
<use href="#c" x="282.3" y="41.5"/>
<use href="#c" x="294.2" y="70.3"/>
<use href="#c" x="265.2" y="84.6"/>
<use href="#c" x="273.3" y="66.5"/>
<use href="#c" x="288.9" y="47.5"/>
<use href="#c" x="272.0" y="63.3"/>
<use href="#c" x="302.1" y="60.2"/>
<use href="#c" x="284.7" y="82.0"/>
<use href="#c" x="274.6" y="52.6"/>
<use href="#c" x="272.2" y="97.1"/>
<use href="#c" x="272.3" y="46.0"/>
<use href="#c" x="282.5" y="57.5"/>
<use href="#c" x="279.9" y="55.4"/>
<use href="#c" x="281.9" y="60.4"/>
<use href="#c" x="284.4" y="72.3"/>
<use href="#c" x="278.6" y="52.7"/>
<use href="#c" x="292.0" y="71.8"/>
<use href="#c" x="287.4" y="49.9"/>
<use href="#c" x="294.6" y="61.6"/>
<use href="#c" x="280.8" y="70.6"/>
<use href="#c" x="288.3" y="81.8"/>
<use href="#c" x="294.8" y="64.0"/>
<use href="#c" x="282.7" y="37.8"/>
<use href="#c" x="279.4" y="40.1"/>
<use href="#c" x="264.9" y="83.2"/>
<use href="#c" x="270.9" y="76.3"/>
<line x1="247.4" y1="117.3" x2="278.5" y2="117.3" stroke="#1a1a1a" stroke-width="1.8" stroke-dasharray="1.7 2.0"/>
<text class="lg" x="282.2" y="120.3">p&lt;0.001</text>
<line x1="247.4" y1="126" x2="278.5" y2="126" stroke="#ED7D31" stroke-width="1.8" stroke-dasharray="1.7 2.0"/>
<text class="lg" x="282.2" y="129.0">p&lt;0.001</text>
<line x1="247.4" y1="135" x2="278.5" y2="135" stroke="#4472C4" stroke-width="1.8" stroke-dasharray="1.7 2.0"/>
<text class="lg" x="282.2" y="138.0">p&gt;0.05</text>
<path d="M409.9,12.2 V141.7 H529.6" fill="none" stroke="#2a2a2a" stroke-width="1.6" stroke-linejoin="round"/>
<text class="tk" x="402.5" y="16.2" text-anchor="end">1. 2</text>
<text class="tk" x="402.5" y="37.6" text-anchor="end">1</text>
<text class="tk" x="402.5" y="59.0" text-anchor="end">0. 8</text>
<text class="tk" x="402.5" y="80.4" text-anchor="end">0. 6</text>
<text class="tk" x="402.5" y="101.8" text-anchor="end">0. 4</text>
<text class="tk" x="402.5" y="123.2" text-anchor="end">0. 2</text>
<text class="tk" x="402.5" y="144.6" text-anchor="end">0</text>
<text class="tk" x="409.8" y="154.8" text-anchor="middle">0</text>
<text class="tk" x="439.4" y="154.8" text-anchor="middle">5</text>
<text class="tk" x="469" y="154.8" text-anchor="middle">10</text>
<text class="tk" x="499.5" y="154.8" text-anchor="middle">15</text>
<text class="tk" x="529" y="154.8" text-anchor="middle">20</text>
<text class="pt" x="418.8" y="22.6">C</text>
<text class="yt" transform="translate(386.5,79) rotate(-90)" text-anchor="middle">Log P (mg g<tspan class="sup" dy="-4">−1</tspan><tspan dy="4">)</tspan></text>
<use href="#c" x="465.0" y="34.3"/>
<use href="#t" x="457.7" y="38.9"/>
<use href="#s" x="445.4" y="42.9"/>
<use href="#t" x="457.7" y="47.3"/>
<use href="#s" x="455.1" y="49.3"/>
<use href="#t" x="465.6" y="53.8"/>
<use href="#s" x="464.6" y="56.4"/>
<use href="#s" x="455.1" y="56.4"/>
<use href="#t" x="457.7" y="56.8"/>
<use href="#t" x="455.1" y="61.8"/>
<use href="#s" x="445.4" y="64.2"/>
<use href="#t" x="433.4" y="67.1"/>
<use href="#c" x="433.2" y="72.7"/>
<use href="#t" x="465.6" y="72.7"/>
<use href="#s" x="458.7" y="75.1"/>
<use href="#c" x="465.6" y="76.3"/>
<use href="#t" x="457.7" y="79.0"/>
<use href="#t" x="445.8" y="84.2"/>
<use href="#s" x="458.3" y="84.2"/>
<use href="#t" x="465.0" y="84.2"/>
<use href="#s" x="472.2" y="84.2"/>
<use href="#t" x="445.8" y="88.2"/>
<use href="#c" x="465.6" y="78.7"/>
<use href="#s" x="487.5" y="84.6"/>
<use href="#s" x="454.7" y="90.9"/>
<use href="#s" x="458.7" y="89.9"/>
<use href="#c" x="433.2" y="97.9"/>
<use href="#c" x="454.7" y="97.9"/>
<use href="#t" x="457.7" y="98.9"/>
<use href="#c" x="458.7" y="99.9"/>
<use href="#t" x="463.0" y="100.9"/>
<use href="#s" x="472.6" y="97.9"/>
<use href="#t" x="447.7" y="104.9"/>
<use href="#c" x="455.7" y="104.9"/>
<use href="#s" x="458.3" y="105.8"/>
<use href="#t" x="463.0" y="107.8"/>
<use href="#t" x="468.2" y="110.8"/>
<use href="#t" x="447.7" y="110.8"/>
<use href="#s" x="454.7" y="112.8"/>
<use href="#c" x="458.3" y="113.8"/>
<use href="#s" x="432.8" y="112.8"/>
<use href="#s" x="444.8" y="118.2"/>
<use href="#t" x="465.6" y="116.8"/>
<use href="#s" x="454.7" y="120.8"/>
<use href="#t" x="458.7" y="121.8"/>
<use href="#c" x="464.6" y="121.8"/>
<use href="#s" x="471.6" y="121.8"/>
<use href="#c" x="458.3" y="126.1"/>
<use href="#s" x="454.7" y="130.7"/>
<use href="#s" x="458.7" y="130.7"/>
<use href="#s" x="464.6" y="131.3"/>
<use href="#s" x="462.7" y="133.7"/>
<use href="#s" x="432.8" y="136.1"/>
<use href="#c" x="435.8" y="139.2"/>
<use href="#c" x="455.1" y="139.2"/>
<use href="#s" x="458.7" y="139.2"/>
<use href="#s" x="493.2" y="94.9"/>
<use href="#t" x="479.9" y="98.3"/>
<use href="#c" x="474.9" y="112.8"/>
<use href="#t" x="506.4" y="123.3"/>
<use href="#t" x="495.8" y="131.7"/>
<use href="#t" x="499.2" y="131.7"/>
<use href="#t" x="506.4" y="132.0"/>
<use href="#t" x="506.4" y="135.3"/>
<use href="#s" x="475.3" y="131.3"/>
<use href="#s" x="478.5" y="132.1"/>
<use href="#s" x="476.9" y="139.6"/>
<use href="#s" x="506.4" y="139.6"/>
<use href="#s" x="466.0" y="130.7"/>
<use href="#c" x="465.6" y="121.8"/>
<use href="#t" x="458.0" y="84.4"/>
<line x1="433.4" y1="68" x2="507" y2="130" stroke="#1a1a1a" stroke-width="1.8" stroke-dasharray="1.7 2.0"/>
<line x1="433" y1="108.5" x2="506" y2="118" stroke="#ED7D31" stroke-width="1.8" stroke-dasharray="1.7 2.0"/>
<line x1="433" y1="108" x2="475" y2="102" stroke="#4472C4" stroke-width="1.8" stroke-dasharray="1.7 2.0"/>
<use href="#t" x="487.5" y="9.8"/>
<text class="lg" x="505.3" y="12.6"><tspan class="lgn">AM</tspan></text>
<use href="#s" x="487.5" y="19.7"/>
<text class="lg" x="505.3" y="22.7"><tspan class="lgn">ECM</tspan></text>
<use href="#c" x="487.5" y="28.4"/>
<text class="lg" x="505.3" y="31.4"><tspan class="lgn">AM+ECM</tspan></text>
<line x1="470" y1="38.3" x2="500" y2="38.3" stroke="#1a1a1a" stroke-width="1.8" stroke-dasharray="1.7 2.0"/>
<text class="lg" x="504" y="41.3">p&lt;0.001</text>
<line x1="470" y1="47.8" x2="500" y2="47.8" stroke="#ED7D31" stroke-width="1.8" stroke-dasharray="1.7 2.0"/>
<text class="lg" x="504" y="50.8">p&gt;0.05</text>
<line x1="470" y1="57.3" x2="500" y2="57.3" stroke="#4472C4" stroke-width="1.8" stroke-dasharray="1.7 2.0"/>
<text class="lg" x="504" y="60.3">p&gt;0.05</text>
<path d="M47.1,178.3 V287.9 H172" fill="none" stroke="#2a2a2a" stroke-width="1.6" stroke-linejoin="round"/>
<text class="tk" x="39" y="182.2" text-anchor="end">200</text>
<text class="tk" x="39" y="203.9" text-anchor="end">160</text>
<text class="tk" x="39" y="225.6" text-anchor="end">120</text>
<text class="tk" x="39" y="247.4" text-anchor="end">80</text>
<text class="tk" x="39" y="269.1" text-anchor="end">40</text>
<text class="tk" x="39" y="290.8" text-anchor="end">0</text>
<text class="tk" x="46.9" y="302.4" text-anchor="middle">−10</text>
<text class="tk" x="78" y="302.4" text-anchor="middle">0</text>
<text class="tk" x="109" y="302.4" text-anchor="middle">10</text>
<text class="tk" x="140.5" y="302.4" text-anchor="middle">20</text>
<text class="tk" x="171.6" y="302.4" text-anchor="middle">30</text>
<text class="pt" x="54.8" y="190.9">D</text>
<text class="yt" transform="translate(20.5,231) rotate(-90)" text-anchor="middle">C : N</text>
<use href="#t" x="83.2" y="192.9"/>
<use href="#c" x="112.6" y="208.5"/>
<use href="#c" x="97.1" y="216.2"/>
<use href="#t" x="109.2" y="226.3"/>
<use href="#s" x="114.0" y="229.6"/>
<use href="#t" x="75.8" y="233.8"/>
<use href="#t" x="83.2" y="235.1"/>
<use href="#t" x="75.5" y="238.2"/>
<use href="#c" x="93.1" y="240.5"/>
<use href="#t" x="97.1" y="240.5"/>
<use href="#t" x="100.7" y="240.5"/>
<use href="#s" x="102.3" y="239.4"/>
<use href="#t" x="119.9" y="228.7"/>
<use href="#c" x="119.9" y="230.7"/>
<use href="#s" x="119.9" y="232.7"/>
<use href="#t" x="55.9" y="249.9"/>
<use href="#t" x="75.8" y="244.9"/>
<use href="#c" x="75.8" y="246.9"/>
<use href="#t" x="75.8" y="250.8"/>
<use href="#c" x="75.8" y="256.8"/>
<use href="#t" x="93.7" y="259.8"/>
<use href="#s" x="91.1" y="270.7"/>
<use href="#t" x="100.7" y="274.7"/>
<use href="#c" x="129.3" y="246.5"/>
<use href="#s" x="123.9" y="249.9"/>
<use href="#c" x="116.9" y="250.8"/>
<use href="#t" x="114.9" y="243.9"/>
<use href="#t" x="114.9" y="246.9"/>
<use href="#c" x="125.9" y="274.3"/>
<use href="#c" x="134.4" y="274.3"/>
<use href="#c" x="141.8" y="270.3"/>
<use href="#s" x="145.8" y="257.2"/>
<use href="#t" x="145.8" y="260.8"/>
<use href="#t" x="145.8" y="266.7"/>
<use href="#t" x="147.7" y="266.7"/>
<use href="#t" x="149.7" y="266.7"/>
<use href="#s" x="156.3" y="256.4"/>
<use href="#s" x="158.3" y="262.4"/>
<use href="#t" x="162.7" y="258.8"/>
<use href="#s" x="106.8" y="262.5"/>
<use href="#t" x="107.3" y="260.8"/>
<use href="#t" x="97.5" y="260.9"/>
<use href="#c" x="118.8" y="247.1"/>
<use href="#t" x="94.2" y="270.7"/>
<use href="#s" x="92.5" y="276.4"/>
<use href="#c" x="113.9" y="264.3"/>
<use href="#c" x="91.5" y="261.4"/>
<use href="#c" x="97.7" y="252.0"/>
<use href="#s" x="107.2" y="258.5"/>
<use href="#c" x="109.2" y="265.1"/>
<use href="#c" x="114.2" y="259.1"/>
<use href="#s" x="125.9" y="276.9"/>
<use href="#c" x="115.8" y="254.4"/>
<use href="#t" x="101.1" y="246.3"/>
<use href="#c" x="105.0" y="271.9"/>
<use href="#c" x="124.5" y="272.0"/>
<use href="#c" x="98.3" y="274.0"/>
<use href="#c" x="125.3" y="257.1"/>
<use href="#c" x="113.0" y="269.7"/>
<use href="#s" x="94.1" y="255.0"/>
<use href="#c" x="117.5" y="247.9"/>
<use href="#t" x="94.5" y="246.0"/>
<use href="#c" x="97.2" y="262.5"/>
<use href="#c" x="97.7" y="268.2"/>
<use href="#c" x="113.5" y="247.8"/>
<use href="#s" x="98.5" y="252.9"/>
<use href="#s" x="119.1" y="254.0"/>
<use href="#s" x="98.4" y="257.0"/>
<use href="#s" x="113.5" y="247.3"/>
<use href="#t" x="98.5" y="252.5"/>
<use href="#c" x="102.5" y="253.8"/>
<use href="#c" x="94.2" y="263.2"/>
<use href="#c" x="112.0" y="256.3"/>
<use href="#t" x="124.6" y="260.0"/>
<use href="#c" x="121.3" y="250.0"/>
<use href="#c" x="122.8" y="271.0"/>
<use href="#s" x="97.6" y="268.4"/>
<use href="#s" x="97.9" y="275.4"/>
<use href="#c" x="112.1" y="257.9"/>
<use href="#c" x="92.4" y="275.8"/>
<use href="#s" x="115.7" y="252.5"/>
<use href="#c" x="111.9" y="253.7"/>
<use href="#c" x="116.2" y="246.3"/>
<use href="#t" x="110.6" y="272.1"/>
<use href="#c" x="100.8" y="274.3"/>
<use href="#c" x="91.6" y="252.9"/>
<use href="#c" x="93.1" y="249.8"/>
<use href="#c" x="111.0" y="248.3"/>
<use href="#t" x="122.2" y="276.4"/>
<use href="#c" x="115.2" y="263.3"/>
<use href="#s" x="92.2" y="244.6"/>
<use href="#c" x="115.5" y="275.8"/>
<use href="#t" x="113.3" y="259.9"/>
<use href="#c" x="102.2" y="277.0"/>
<use href="#c" x="104.3" y="270.1"/>
<use href="#c" x="106.1" y="270.7"/>
<use href="#c" x="106.6" y="269.7"/>
<use href="#c" x="112.3" y="258.4"/>
<use href="#c" x="113.8" y="263.2"/>
<use href="#c" x="112.7" y="268.6"/>
<use href="#c" x="109.6" y="269.3"/>
<use href="#c" x="110.8" y="258.5"/>
<use href="#c" x="104.0" y="260.1"/>
<use href="#c" x="108.3" y="268.2"/>
<use href="#c" x="111.2" y="258.2"/>
<use href="#c" x="110.6" y="259.6"/>
<use href="#c" x="113.5" y="266.3"/>
<use href="#c" x="108.4" y="260.4"/>
<use href="#c" x="109.0" y="258.0"/>
<use href="#c" x="104.1" y="261.6"/>
<use href="#c" x="111.9" y="258.3"/>
<use href="#c" x="104.1" y="265.6"/>
<use href="#c" x="109.4" y="265.1"/>
<use href="#c" x="108.2" y="267.9"/>
<use href="#c" x="108.7" y="260.7"/>
<use href="#c" x="104.7" y="270.1"/>
<use href="#c" x="114.3" y="264.5"/>
<use href="#c" x="109.8" y="274.8"/>
<use href="#c" x="106.6" y="259.8"/>
<use href="#c" x="108.6" y="261.1"/>
<use href="#c" x="103.4" y="262.2"/>
<use href="#c" x="110.0" y="261.7"/>
<use href="#c" x="107.3" y="261.0"/>
<use href="#c" x="104.8" y="260.0"/>
<use href="#c" x="113.5" y="261.3"/>
<use href="#c" x="110.2" y="274.3"/>
<use href="#c" x="112.1" y="263.4"/>
<use href="#c" x="110.2" y="274.8"/>
<use href="#c" x="109.1" y="272.8"/>
<use href="#c" x="109.6" y="271.5"/>
<use href="#c" x="114.0" y="268.3"/>
<use href="#c" x="114.2" y="265.4"/>
<use href="#c" x="106.2" y="258.1"/>
<use href="#c" x="111.3" y="258.8"/>
<use href="#c" x="108.4" y="266.9"/>
<use href="#c" x="112.4" y="261.1"/>
<use href="#c" x="108.1" y="258.6"/>
<use href="#c" x="104.8" y="270.5"/>
<use href="#c" x="111.0" y="260.4"/>
<use href="#c" x="110.9" y="263.1"/>
<use href="#c" x="110.9" y="267.1"/>
<use href="#c" x="107.9" y="261.3"/>
<use href="#c" x="103.7" y="269.6"/>
<use href="#c" x="109.5" y="257.9"/>
<use href="#c" x="119.4" y="259.7"/>
<use href="#t" x="117.7" y="236.4"/>
<use href="#c" x="118.4" y="265.2"/>
<use href="#c" x="120.0" y="256.1"/>
<use href="#t" x="117.7" y="251.8"/>
<use href="#s" x="121.5" y="238.1"/>
<use href="#t" x="117.4" y="260.7"/>
<use href="#t" x="119.0" y="266.3"/>
<use href="#t" x="117.3" y="268.9"/>
<use href="#s" x="117.5" y="271.5"/>
<use href="#t" x="117.6" y="251.2"/>
<use href="#t" x="118.6" y="258.4"/>
<use href="#t" x="120.5" y="237.8"/>
<use href="#t" x="121.1" y="250.4"/>
<use href="#t" x="120.0" y="253.2"/>
<use href="#s" x="117.2" y="262.1"/>
<use href="#t" x="121.9" y="259.9"/>
<use href="#c" x="118.8" y="260.8"/>
<use href="#t" x="117.6" y="244.5"/>
<use href="#t" x="119.6" y="265.2"/>
<use href="#t" x="117.1" y="265.6"/>
<use href="#t" x="119.6" y="244.0"/>
<use href="#t" x="158.8" y="270.8"/>
<use href="#t" x="161.7" y="257.8"/>
<use href="#t" x="158.2" y="258.9"/>
<use href="#t" x="158.2" y="266.8"/>
<use href="#s" x="159.0" y="264.2"/>
<use href="#t" x="160.5" y="253.4"/>
<use href="#s" x="158.2" y="275.7"/>
<use href="#t" x="161.5" y="274.5"/>
<use href="#t" x="162.2" y="273.6"/>
<use href="#t" x="161.7" y="265.7"/>
<use href="#t" x="160.3" y="264.2"/>
<use href="#t" x="159.6" y="261.2"/>
<use href="#c" x="161.6" y="273.8"/>
<use href="#t" x="161.0" y="267.4"/>
<use href="#t" x="158.2" y="270.6"/>
<use href="#t" x="158.4" y="258.3"/>
<use href="#t" x="158.8" y="264.9"/>
<use href="#t" x="159.5" y="256.4"/>
<use href="#t" x="158.7" y="259.1"/>
<use href="#t" x="159.3" y="254.9"/>
<use href="#t" x="162.3" y="263.1"/>
<use href="#t" x="162.2" y="254.1"/>
<use href="#T" x="120.0" y="236.0"/>
<use href="#T" x="120.0" y="238.0"/>
<use href="#T" x="120.0" y="240.0"/>
<use href="#T" x="120.0" y="242.0"/>
<use href="#T" x="120.0" y="244.0"/>
<line x1="58" y1="250" x2="160" y2="266" stroke="#1a1a1a" stroke-width="1.8" stroke-dasharray="1.7 2.0"/>
<line x1="77" y1="253" x2="160" y2="268" stroke="#ED7D31" stroke-width="1.8" stroke-dasharray="1.7 2.0"/>
<line x1="77" y1="264" x2="160" y2="253" stroke="#4472C4" stroke-width="1.8" stroke-dasharray="1.7 2.0"/>
<line x1="114.4" y1="179.8" x2="145.8" y2="179.8" stroke="#1a1a1a" stroke-width="1.8" stroke-dasharray="1.7 2.0"/>
<text class="lg" x="149.1" y="182.8">p&lt;0.001</text>
<line x1="114.4" y1="191.3" x2="145.8" y2="191.3" stroke="#4472C4" stroke-width="1.8" stroke-dasharray="1.7 2.0"/>
<text class="lg" x="149.1" y="194.3">p&gt;0.05</text>
<line x1="114.4" y1="203.9" x2="145.8" y2="203.9" stroke="#ED7D31" stroke-width="1.8" stroke-dasharray="1.7 2.0"/>
<text class="lg" x="149.1" y="206.9">p&gt;0.05</text>
<path d="M244.89999999999998,185.3 V298.0 H345.2" fill="none" stroke="#2a2a2a" stroke-width="1.6" stroke-linejoin="round"/>
<text class="tk" x="237" y="189.0" text-anchor="end">4000</text>
<text class="tk" x="237" y="217.0" text-anchor="end">3000</text>
<text class="tk" x="237" y="245.0" text-anchor="end">2000</text>
<text class="tk" x="237" y="272.9" text-anchor="end">1000</text>
<text class="tk" x="237" y="300.9" text-anchor="end">0</text>
<text class="tk" x="244.9" y="312.3" text-anchor="middle">−5</text>
<text class="tk" x="294.9" y="312.3" text-anchor="middle">15</text>
<text class="tk" x="345.2" y="312.3" text-anchor="middle">35</text>
<text class="pt" x="252.2" y="193">E</text>
<text class="yt" transform="translate(215.8,236) rotate(-90)" text-anchor="middle">C : P</text>
<use href="#t" x="282.7" y="213.5"/>
<use href="#t" x="282.7" y="216.9"/>
<use href="#c" x="299.0" y="211.9"/>
<use href="#c" x="299.0" y="227.8"/>
<use href="#c" x="275.4" y="244.7"/>
<use href="#s" x="275.4" y="247.7"/>
<use href="#c" x="281.7" y="247.7"/>
<use href="#t" x="281.7" y="249.7"/>
<use href="#t" x="280.8" y="252.7"/>
<use href="#s" x="287.3" y="251.7"/>
<use href="#t" x="287.3" y="253.7"/>
<use href="#s" x="292.7" y="254.7"/>
<use href="#s" x="296.7" y="250.1"/>
<use href="#T" x="255.9" y="259.6"/>
<use href="#T" x="255.9" y="262.0"/>
<use href="#t" x="260.9" y="265.5"/>
<use href="#T" x="256.0" y="282.0"/>
<use href="#t" x="312.2" y="228.8"/>
<use href="#t" x="317.8" y="230.8"/>
<use href="#t" x="322.7" y="226.8"/>
<use href="#s" x="312.2" y="234.2"/>
<use href="#s" x="320.8" y="236.2"/>
<use href="#t" x="311.8" y="252.7"/>
<use href="#t" x="315.8" y="253.7"/>
<use href="#t" x="320.8" y="254.7"/>
<use href="#t" x="315.4" y="261.2"/>
<use href="#c" x="296.3" y="261.6"/>
<use href="#s" x="275.4" y="266.9"/>
<use href="#c" x="272.0" y="272.8"/>
<use href="#t" x="275.4" y="274.5"/>
<use href="#t" x="275.4" y="277.0"/>
<use href="#t" x="275.4" y="282.0"/>
<use href="#s" x="276.2" y="287.9"/>
<use href="#c" x="272.0" y="292.1"/>
<use href="#c" x="290.5" y="289.6"/>
<use href="#t" x="312.9" y="269.0"/>
<use href="#t" x="324.0" y="266.6"/>
<use href="#s" x="320.3" y="271.2"/>
<use href="#c" x="290.9" y="289.2"/>
<use href="#t" x="312.2" y="194.5"/>
<use href="#c" x="312.2" y="195.5"/>
<use href="#c" x="281.5" y="250.0"/>
<use href="#s" x="280.7" y="283.5"/>
<use href="#t" x="282.4" y="267.3"/>
<use href="#s" x="284.2" y="277.4"/>
<use href="#c" x="281.1" y="260.1"/>
<use href="#t" x="283.0" y="262.4"/>
<use href="#c" x="281.1" y="267.9"/>
<use href="#t" x="285.2" y="285.1"/>
<use href="#c" x="283.1" y="261.2"/>
<use href="#t" x="282.5" y="263.9"/>
<use href="#t" x="281.8" y="265.3"/>
<use href="#c" x="280.5" y="291.6"/>
<use href="#s" x="282.8" y="271.7"/>
<use href="#t" x="280.8" y="261.3"/>
<use href="#c" x="281.1" y="286.5"/>
<use href="#t" x="285.0" y="290.4"/>
<use href="#t" x="283.9" y="279.7"/>
<use href="#t" x="280.5" y="276.2"/>
<use href="#t" x="280.9" y="291.4"/>
<use href="#c" x="282.0" y="272.4"/>
<use href="#c" x="281.9" y="293.8"/>
<use href="#s" x="279.9" y="263.2"/>
<use href="#s" x="285.2" y="276.9"/>
<use href="#c" x="282.8" y="285.4"/>
<use href="#s" x="283.1" y="278.9"/>
<use href="#c" x="280.8" y="265.8"/>
<use href="#s" x="284.8" y="271.8"/>
<use href="#c" x="281.5" y="263.5"/>
<use href="#c" x="284.2" y="286.4"/>
<use href="#t" x="283.5" y="283.0"/>
<use href="#t" x="285.0" y="273.8"/>
<use href="#t" x="285.0" y="280.1"/>
<use href="#c" x="282.5" y="272.8"/>
<use href="#c" x="284.5" y="265.5"/>
<use href="#s" x="284.1" y="286.3"/>
<use href="#c" x="284.3" y="261.8"/>
<use href="#c" x="281.4" y="274.3"/>
<use href="#t" x="280.2" y="271.5"/>
<use href="#s" x="285.1" y="285.4"/>
<use href="#s" x="281.2" y="292.6"/>
<use href="#c" x="283.7" y="261.0"/>
<use href="#t" x="284.3" y="287.0"/>
<use href="#s" x="283.0" y="274.5"/>
<use href="#s" x="284.4" y="270.5"/>
<use href="#c" x="281.3" y="286.1"/>
<use href="#c" x="283.5" y="292.4"/>
<use href="#t" x="283.0" y="281.9"/>
<use href="#c" x="283.0" y="268.7"/>
<use href="#c" x="285.0" y="290.8"/>
<use href="#c" x="280.3" y="263.2"/>
<use href="#t" x="282.2" y="264.8"/>
<use href="#s" x="283.3" y="264.3"/>
<use href="#c" x="281.6" y="276.8"/>
<use href="#t" x="322.8" y="273.5"/>
<use href="#T" x="323.7" y="276.0"/>
<use href="#t" x="323.0" y="278.5"/>
<use href="#T" x="322.9" y="281.0"/>
<use href="#t" x="322.8" y="283.5"/>
<use href="#T" x="323.1" y="286.0"/>
<line x1="255.2" y1="276.6" x2="326.3" y2="261.1" stroke="#1a1a1a" stroke-width="1.8" stroke-dasharray="1.7 2.0"/>
<line x1="288.4" y1="264.8" x2="320.2" y2="245.2" stroke="#4472C4" stroke-width="1.8" stroke-dasharray="1.7 2.0"/>
<line x1="284.7" y1="268.5" x2="311.6" y2="215.8" stroke="#ED7D31" stroke-width="1.8" stroke-dasharray="1.7 2.0"/>
<line x1="281.1" y1="179.3" x2="312.6" y2="179.3" stroke="#1a1a1a" stroke-width="1.8" stroke-dasharray="1.7 2.0"/>
<text class="lg" x="316.2" y="182.3">p&gt;0.05</text>
<line x1="281.1" y1="191.3" x2="312.6" y2="191.3" stroke="#4472C4" stroke-width="1.8" stroke-dasharray="1.7 2.0"/>
<text class="lg" x="316.2" y="194.3">p&gt;0.05</text>
<line x1="281.1" y1="204.4" x2="312.6" y2="204.4" stroke="#ED7D31" stroke-width="1.8" stroke-dasharray="1.7 2.0"/>
<text class="lg" x="316.2" y="207.4">p&lt;0.001</text>
<path d="M407.5,175.9 V295.2 H530" fill="none" stroke="#2a2a2a" stroke-width="1.6" stroke-linejoin="round"/>
<text class="tk" x="400.5" y="179.5" text-anchor="end">150</text>
<text class="tk" x="400.5" y="219.0" text-anchor="end">100</text>
<text class="tk" x="400.5" y="258.6" text-anchor="end">50</text>
<text class="tk" x="400.5" y="298.1" text-anchor="end">0</text>
<text class="tk" x="407.2" y="308.4" text-anchor="middle">−5</text>
<text class="tk" x="437.8" y="308.4" text-anchor="middle">5</text>
<text class="tk" x="467.5" y="308.4" text-anchor="middle">15</text>
<text class="tk" x="498.4" y="308.4" text-anchor="middle">25</text>
<text class="tk" x="530" y="308.4" text-anchor="middle">35</text>
<text class="pt" x="416.8" y="183.7">F</text>
<text class="yt" transform="translate(385.8,231.5) rotate(-90)" text-anchor="middle">N : P</text>
<path d="M441.5,293.5 L441.5,275 L445,272.5 L448.5,269 L456,268.5 L459.5,272.5 L460.5,293.5 Z" fill="#2f569f"/>
<use href="#T" x="503.4" y="276.3"/>
<use href="#t" x="485.1" y="258.8"/>
<use href="#t" x="468.8" y="270.4"/>
<use href="#t" x="481.3" y="288.6"/>
<use href="#T" x="505.4" y="280.0"/>
<use href="#t" x="485.8" y="262.5"/>
<use href="#t" x="444.8" y="280.1"/>
<use href="#t" x="500.9" y="275.2"/>
<use href="#t" x="501.1" y="277.8"/>
<use href="#t" x="449.5" y="273.9"/>
<use href="#t" x="505.4" y="277.8"/>
<use href="#t" x="456.1" y="281.6"/>
<use href="#t" x="491.2" y="275.8"/>
<use href="#t" x="481.2" y="273.3"/>
<use href="#t" x="490.4" y="270.9"/>
<use href="#t" x="460.9" y="287.4"/>
<use href="#t" x="456.3" y="287.9"/>
<use href="#t" x="457.8" y="278.5"/>
<use href="#t" x="450.5" y="290.8"/>
<use href="#t" x="455.2" y="284.6"/>
<use href="#t" x="483.2" y="262.3"/>
<use href="#t" x="480.1" y="276.6"/>
<use href="#t" x="436.0" y="276.8"/>
<use href="#t" x="452.5" y="273.2"/>
<use href="#t" x="451.9" y="288.4"/>
<use href="#t" x="507.3" y="281.3"/>
<use href="#t" x="465.7" y="282.5"/>
<use href="#t" x="490.7" y="280.4"/>
<use href="#t" x="488.4" y="274.1"/>
<use href="#t" x="469.4" y="279.5"/>
<use href="#t" x="484.0" y="256.8"/>
<use href="#t" x="501.1" y="285.3"/>
<use href="#t" x="505.7" y="283.8"/>
<use href="#t" x="486.0" y="271.8"/>
<use href="#t" x="452.3" y="263.3"/>
<use href="#t" x="485.4" y="274.8"/>
<use href="#t" x="502.6" y="276.9"/>
<use href="#t" x="503.6" y="276.2"/>
<use href="#t" x="482.4" y="258.4"/>
<use href="#t" x="482.9" y="276.7"/>
<use href="#T" x="505.7" y="274.7"/>
<use href="#t" x="456.0" y="290.1"/>
<use href="#t" x="482.4" y="280.8"/>
<use href="#T" x="506.7" y="275.6"/>
<use href="#t" x="503.2" y="277.7"/>
<use href="#t" x="501.4" y="275.1"/>
<use href="#t" x="491.2" y="263.8"/>
<use href="#t" x="485.8" y="288.5"/>
<use href="#t" x="452.4" y="277.6"/>
<use href="#t" x="503.0" y="274.8"/>
<use href="#t" x="462.8" y="286.8"/>
<use href="#t" x="439.1" y="277.0"/>
<use href="#t" x="501.2" y="285.1"/>
<use href="#t" x="487.9" y="269.1"/>
<use href="#t" x="503.9" y="278.7"/>
<use href="#t" x="438.7" y="291.0"/>
<use href="#T" x="504.7" y="273.5"/>
<use href="#t" x="482.6" y="282.9"/>
<use href="#t" x="484.2" y="265.0"/>
<use href="#t" x="473.2" y="284.4"/>
<use href="#t" x="506.4" y="275.1"/>
<use href="#t" x="505.4" y="276.2"/>
<use href="#t" x="504.9" y="272.6"/>
<use href="#t" x="503.5" y="279.5"/>
<use href="#t" x="464.6" y="281.3"/>
<use href="#t" x="453.1" y="259.7"/>
<use href="#t" x="453.1" y="262.7"/>
<use href="#t" x="421.0" y="279.1"/>
<use href="#t" x="488.8" y="216.3"/>
<use href="#t" x="483.1" y="238.0"/>
<use href="#t" x="483.8" y="247.9"/>
<use href="#t" x="482.9" y="256.6"/>
<use href="#t" x="489.0" y="256.6"/>
<use href="#t" x="501.5" y="256.0"/>
<use href="#t" x="507.0" y="255.5"/>
<use href="#t" x="481.2" y="267.0"/>
<use href="#t" x="506.0" y="271.2"/>
<use href="#s" x="443.8" y="275.6"/>
<use href="#s" x="491.0" y="258.9"/>
<use href="#s" x="458.7" y="282.2"/>
<use href="#s" x="476.5" y="270.1"/>
<use href="#s" x="467.8" y="287.8"/>
<use href="#s" x="456.6" y="291.0"/>
<use href="#s" x="451.1" y="282.6"/>
<use href="#s" x="466.8" y="271.3"/>
<use href="#s" x="447.4" y="274.3"/>
<use href="#s" x="451.3" y="281.7"/>
<use href="#s" x="462.5" y="278.2"/>
<use href="#s" x="491.2" y="283.5"/>
<use href="#s" x="453.0" y="287.2"/>
<use href="#s" x="463.4" y="289.4"/>
<use href="#s" x="446.7" y="287.4"/>
<use href="#s" x="487.2" y="273.5"/>
<use href="#s" x="480.7" y="289.6"/>
<use href="#s" x="431.2" y="286.8"/>
<use href="#s" x="449.5" y="292.6"/>
<use href="#s" x="451.4" y="288.5"/>
<use href="#s" x="463.6" y="272.5"/>
<use href="#s" x="476.6" y="282.8"/>
<use href="#s" x="489.7" y="284.2"/>
<use href="#s" x="435.9" y="281.9"/>
<use href="#s" x="452.3" y="282.5"/>
<use href="#s" x="485.8" y="285.2"/>
<use href="#s" x="430.6" y="280.0"/>
<use href="#s" x="461.4" y="274.6"/>
<use href="#s" x="486.1" y="262.3"/>
<use href="#s" x="489.6" y="281.8"/>
<use href="#s" x="454.8" y="259.0"/>
<use href="#s" x="471.9" y="281.9"/>
<use href="#s" x="452.0" y="274.2"/>
<use href="#s" x="452.1" y="284.4"/>
<use href="#s" x="464.4" y="285.8"/>
<use href="#s" x="481.9" y="288.6"/>
<use href="#s" x="443.9" y="250.5"/>
<use href="#s" x="443.9" y="264.8"/>
<use href="#s" x="451.0" y="264.8"/>
<use href="#s" x="420.4" y="289.4"/>
<use href="#s" x="486.4" y="259.5"/>
<use href="#s" x="489.9" y="261.8"/>
<use href="#s" x="481.2" y="264.4"/>
<use href="#s" x="498.6" y="264.4"/>
<use href="#c" x="455.0" y="276.2"/>
<use href="#c" x="467.6" y="274.9"/>
<use href="#c" x="453.7" y="287.1"/>
<use href="#c" x="445.6" y="289.6"/>
<use href="#c" x="452.9" y="290.8"/>
<use href="#c" x="450.6" y="288.6"/>
<use href="#c" x="455.5" y="268.1"/>
<use href="#c" x="462.3" y="282.2"/>
<use href="#c" x="457.6" y="284.6"/>
<use href="#c" x="458.5" y="274.0"/>
<use href="#c" x="466.2" y="290.8"/>
<use href="#c" x="457.0" y="288.8"/>
<use href="#c" x="429.7" y="291.5"/>
<use href="#c" x="455.5" y="289.9"/>
<use href="#c" x="453.0" y="264.5"/>
<use href="#c" x="426.0" y="286.0"/>
<use href="#c" x="481.0" y="272.7"/>
<use href="#c" x="453.2" y="272.7"/>
<use href="#c" x="455.2" y="279.5"/>
<use href="#c" x="443.2" y="284.8"/>
<use href="#c" x="430.0" y="284.1"/>
<use href="#c" x="463.9" y="286.5"/>
<use href="#c" x="443.8" y="288.5"/>
<use href="#c" x="461.0" y="271.8"/>
<use href="#c" x="457.6" y="288.0"/>
<use href="#c" x="440.9" y="280.1"/>
<use href="#c" x="453.8" y="269.9"/>
<use href="#c" x="451.5" y="279.5"/>
<use href="#c" x="450.7" y="292.6"/>
<use href="#c" x="444.1" y="278.6"/>
<use href="#c" x="427.9" y="284.4"/>
<use href="#c" x="450.8" y="290.4"/>
<use href="#c" x="446.7" y="284.9"/>
<use href="#c" x="447.7" y="280.6"/>
<use href="#c" x="468.1" y="287.1"/>
<use href="#c" x="432.9" y="285.0"/>
<use href="#c" x="451.1" y="278.9"/>
<use href="#c" x="454.1" y="264.2"/>
<use href="#c" x="455.2" y="285.4"/>
<use href="#c" x="453.5" y="263.8"/>
<use href="#c" x="452.3" y="266.4"/>
<use href="#c" x="443.3" y="287.6"/>
<use href="#c" x="450.3" y="291.6"/>
<use href="#c" x="454.0" y="282.3"/>
<use href="#c" x="452.5" y="265.0"/>
<use href="#c" x="453.9" y="269.6"/>
<use href="#c" x="449.4" y="268.6"/>
<use href="#c" x="453.5" y="283.5"/>
<use href="#c" x="456.0" y="271.2"/>
<use href="#c" x="490.9" y="285.6"/>
<use href="#c" x="451.8" y="274.5"/>
<use href="#c" x="432.0" y="283.5"/>
<use href="#c" x="454.7" y="270.8"/>
<use href="#c" x="448.1" y="282.7"/>
<use href="#c" x="436.3" y="287.0"/>
<use href="#c" x="466.5" y="276.3"/>
<use href="#c" x="446.6" y="273.1"/>
<use href="#c" x="444.6" y="282.9"/>
<use href="#c" x="453.0" y="277.9"/>
<use href="#c" x="458.7" y="288.7"/>
<use href="#c" x="464.7" y="279.6"/>
<use href="#c" x="422.2" y="291.8"/>
<use href="#c" x="445.3" y="285.6"/>
<use href="#c" x="444.3" y="281.6"/>
<use href="#c" x="455.7" y="291.7"/>
<use href="#c" x="457.9" y="287.8"/>
<use href="#c" x="453.7" y="286.5"/>
<use href="#c" x="445.3" y="285.6"/>
<use href="#c" x="446.7" y="287.4"/>
<use href="#c" x="456.3" y="289.1"/>
<use href="#c" x="433.8" y="290.1"/>
<use href="#c" x="446.0" y="291.1"/>
<use href="#c" x="456.5" y="275.6"/>
<use href="#c" x="457.8" y="287.3"/>
<use href="#c" x="458.0" y="286.7"/>
<use href="#c" x="458.7" y="292.6"/>
<use href="#c" x="472.2" y="275.6"/>
<use href="#c" x="469.4" y="274.2"/>
<use href="#c" x="455.3" y="280.3"/>
<use href="#c" x="452.2" y="263.0"/>
<use href="#c" x="471.5" y="282.4"/>
<use href="#c" x="429.1" y="291.9"/>
<use href="#c" x="461.7" y="288.5"/>
<use href="#c" x="453.3" y="280.1"/>
<use href="#c" x="457.0" y="271.3"/>
<use href="#c" x="453.2" y="265.7"/>
<use href="#c" x="448.6" y="283.4"/>
<use href="#c" x="444.3" y="287.2"/>
<use href="#c" x="450.4" y="281.9"/>
<use href="#c" x="477.1" y="273.0"/>
<use href="#c" x="423.8" y="289.8"/>
<use href="#c" x="483.5" y="266.8"/>
<use href="#c" x="454.9" y="276.8"/>
<use href="#c" x="484.7" y="269.4"/>
<use href="#c" x="448.7" y="279.8"/>
<use href="#c" x="485.4" y="274.8"/>
<use href="#c" x="456.6" y="273.6"/>
<use href="#c" x="453.2" y="279.1"/>
<use href="#c" x="452.9" y="277.8"/>
<use href="#c" x="443.0" y="285.0"/>
<use href="#c" x="434.7" y="291.1"/>
<use href="#c" x="456.1" y="274.6"/>
<use href="#c" x="447.5" y="271.3"/>
<use href="#c" x="474.4" y="275.4"/>
<use href="#c" x="456.9" y="274.2"/>
<use href="#c" x="476.6" y="269.6"/>
<use href="#c" x="438.4" y="290.1"/>
<use href="#c" x="438.8" y="281.1"/>
<use href="#c" x="450.0" y="265.2"/>
<use href="#c" x="454.6" y="275.5"/>
<use href="#c" x="448.6" y="291.6"/>
<use href="#c" x="450.1" y="272.9"/>
<use href="#c" x="437.6" y="289.6"/>
<use href="#c" x="446.1" y="291.2"/>
<use href="#c" x="449.4" y="289.6"/>
<use href="#c" x="474.0" y="282.6"/>
<use href="#c" x="450.5" y="292.2"/>
<use href="#c" x="436.2" y="276.9"/>
<use href="#c" x="444.6" y="277.8"/>
<use href="#c" x="466.2" y="265.7"/>
<use href="#c" x="464.2" y="274.8"/>
<use href="#c" x="451.6" y="282.6"/>
<use href="#c" x="450.2" y="286.9"/>
<use href="#c" x="472.8" y="290.2"/>
<use href="#c" x="467.8" y="278.9"/>
<use href="#c" x="446.2" y="279.4"/>
<use href="#c" x="468.6" y="275.1"/>
<use href="#c" x="450.6" y="287.7"/>
<use href="#c" x="490.0" y="287.2"/>
<use href="#c" x="457.0" y="291.2"/>
<use href="#c" x="440.5" y="275.0"/>
<use href="#c" x="447.8" y="272.2"/>
<use href="#c" x="454.6" y="282.4"/>
<use href="#c" x="445.3" y="288.8"/>
<use href="#c" x="453.0" y="261.4"/>
<use href="#c" x="456.9" y="292.6"/>
<use href="#c" x="446.6" y="273.3"/>
<use href="#c" x="443.3" y="280.7"/>
<use href="#c" x="423.1" y="287.4"/>
<use href="#c" x="455.1" y="262.5"/>
<use href="#c" x="449.7" y="271.1"/>
<use href="#c" x="428.4" y="292.4"/>
<use href="#c" x="451.0" y="287.2"/>
<use href="#c" x="455.4" y="276.8"/>
<use href="#c" x="455.2" y="276.9"/>
<use href="#c" x="452.3" y="273.1"/>
<use href="#c" x="468.3" y="270.7"/>
<use href="#c" x="451.9" y="273.1"/>
<use href="#c" x="483.3" y="269.8"/>
<use href="#c" x="470.1" y="267.7"/>
<use href="#c" x="443.3" y="289.0"/>
<use href="#c" x="444.9" y="274.0"/>
<use href="#c" x="446.4" y="292.5"/>
<use href="#c" x="451.2" y="267.1"/>
<use href="#c" x="443.4" y="286.9"/>
<use href="#c" x="450.0" y="279.0"/>
<use href="#c" x="481.4" y="270.1"/>
<use href="#c" x="458.4" y="275.8"/>
<use href="#c" x="450.7" y="264.2"/>
<use href="#c" x="454.5" y="278.5"/>
<use href="#c" x="454.5" y="289.4"/>
<use href="#c" x="445.8" y="286.2"/>
<use href="#c" x="434.0" y="289.4"/>
<use href="#c" x="449.2" y="258.3"/>
<use href="#c" x="447.6" y="276.8"/>
<use href="#c" x="453.6" y="277.5"/>
<use href="#c" x="438.7" y="284.1"/>
<use href="#c" x="450.7" y="281.8"/>
<use href="#c" x="469.4" y="290.2"/>
<use href="#c" x="454.7" y="282.2"/>
<use href="#c" x="455.1" y="259.4"/>
<use href="#c" x="434.0" y="279.1"/>
<use href="#c" x="471.8" y="282.6"/>
<use href="#c" x="456.5" y="280.0"/>
<use href="#c" x="455.5" y="292.7"/>
<use href="#c" x="446.2" y="276.6"/>
<use href="#c" x="472.1" y="287.0"/>
<use href="#c" x="430.2" y="282.7"/>
<use href="#c" x="457.4" y="274.9"/>
<use href="#c" x="446.1" y="274.4"/>
<use href="#c" x="454.4" y="257.8"/>
<use href="#c" x="455.9" y="281.6"/>
<use href="#c" x="471.1" y="288.9"/>
<use href="#c" x="470.8" y="273.0"/>
<use href="#c" x="449.3" y="288.4"/>
<use href="#c" x="457.5" y="282.2"/>
<use href="#c" x="446.5" y="282.7"/>
<use href="#c" x="450.9" y="276.2"/>
<use href="#c" x="446.6" y="286.5"/>
<use href="#c" x="452.8" y="283.8"/>
<use href="#c" x="450.6" y="276.7"/>
<use href="#c" x="452.0" y="285.2"/>
<use href="#c" x="474.0" y="291.6"/>
<use href="#c" x="454.8" y="274.5"/>
<use href="#c" x="470.1" y="284.3"/>
<use href="#c" x="464.7" y="284.8"/>
<use href="#c" x="454.7" y="287.8"/>
<use href="#c" x="435.8" y="279.0"/>
<use href="#c" x="454.8" y="291.2"/>
<use href="#c" x="449.5" y="284.5"/>
<use href="#c" x="457.4" y="292.2"/>
<use href="#c" x="489.4" y="282.7"/>
<use href="#c" x="456.5" y="284.9"/>
<use href="#c" x="456.2" y="288.8"/>
<use href="#c" x="439.9" y="289.4"/>
<use href="#c" x="482.9" y="289.3"/>
<use href="#c" x="454.1" y="258.7"/>
<use href="#c" x="451.2" y="273.1"/>
<use href="#c" x="446.9" y="281.1"/>
<use href="#c" x="457.9" y="284.5"/>
<use href="#c" x="450.9" y="283.8"/>
<use href="#c" x="443.9" y="287.4"/>
<use href="#c" x="450.1" y="261.2"/>
<use href="#c" x="443.9" y="265.5"/>
<use href="#c" x="461.9" y="253.5"/>
<use href="#c" x="470.1" y="252.5"/>
<use href="#c" x="471.5" y="258.7"/>
<use href="#c" x="417.3" y="289.4"/>
<use href="#c" x="435.7" y="276.0"/>
<use href="#c" x="481.4" y="245.1"/>
<use href="#c" x="461.5" y="253.4"/>
<use href="#c" x="470.0" y="253.0"/>
<use href="#c" x="492.5" y="266.2"/>
<use href="#c" x="471.6" y="289.7"/>
<path d="M442.5,293 L442.5,276 L446,273 L449,270 L455.5,269.5 L458.5,273 L459.5,293 Z" fill="#1f3f80" fill-opacity="0.3"/>
<line x1="420.9" y1="289.9" x2="497" y2="270.5" stroke="#ED7D31" stroke-width="1.8" stroke-dasharray="1.7 2.0"/>
<line x1="482" y1="274.6" x2="508.2" y2="269.2" stroke="#1a1a1a" stroke-width="1.8" stroke-dasharray="1.7 2.0"/>
<line x1="469" y1="177.4" x2="500.1" y2="177.4" stroke="#1a1a1a" stroke-width="1.8" stroke-dasharray="1.7 2.0"/>
<text class="lg" x="503.4" y="180.4">p&lt;0.001</text>
<line x1="469" y1="188.3" x2="500.1" y2="188.3" stroke="#4472C4" stroke-width="1.8" stroke-dasharray="1.7 2.0"/>
<text class="lg" x="503.4" y="191.3">p&lt;0.001</text>
<line x1="469" y1="200" x2="500.1" y2="200" stroke="#ED7D31" stroke-width="1.8" stroke-dasharray="1.7 2.0"/>
<text class="lg" x="503.4" y="203.0">p&lt;0.001</text>
</svg>
</body></html>
